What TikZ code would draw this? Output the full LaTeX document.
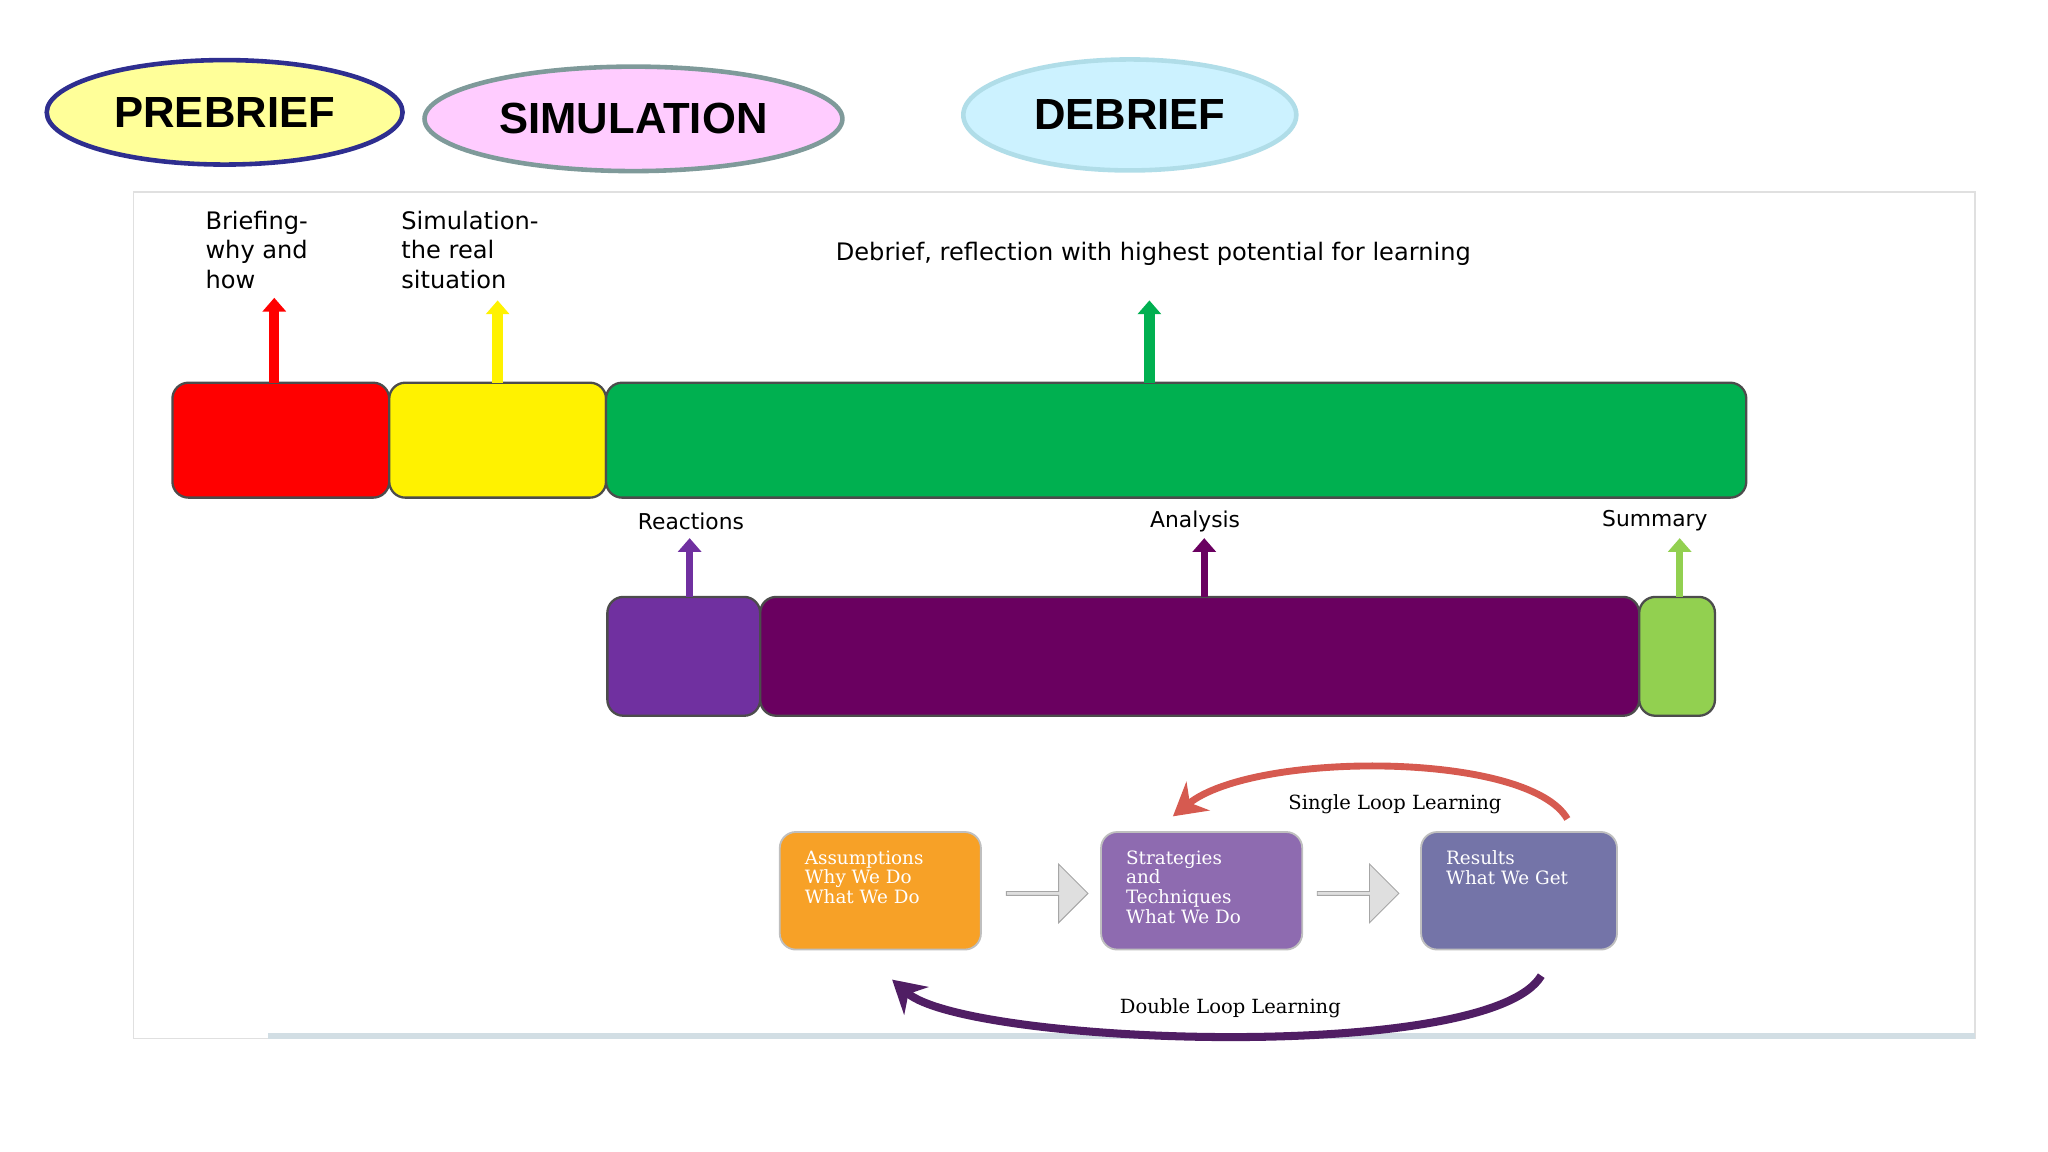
\documentclass[tikz,border=0pt]{standalone}
\usepackage{fontspec}
\setmainfont{DejaVu Sans}
\newfontfamily\hvfont{Liberation Sans}
\newfontfamily\slabfont{DejaVu Serif}
\usetikzlibrary{shapes.geometric,arrows.meta,shapes.arrows}
\definecolor{navy}{HTML}{2E2E8F}
\definecolor{cpre}{RGB}{255,255,153}
\definecolor{csim}{RGB}{255,204,255}
\definecolor{csimd}{RGB}{127,154,154}
\definecolor{cdeb}{RGB}{204,242,255}
\definecolor{cdebd}{RGB}{176,221,232}
\definecolor{cline}{RGB}{210,222,228}
\definecolor{cgreen}{RGB}{0,176,80}
\definecolor{cpur}{RGB}{112,48,160}
\definecolor{cdpur}{RGB}{106,0,96}
\definecolor{clgreen}{RGB}{146,208,80}
\definecolor{corange}{RGB}{247,161,39}
\definecolor{cviolet}{RGB}{142,107,176}
\definecolor{cblue}{RGB}{116,116,168}
\definecolor{cred}{RGB}{214,90,80}
\definecolor{cdl}{RGB}{80,30,100}
\begin{document}
\begin{tikzpicture}[x=0.02cm,y=-0.02cm,
  ell/.style={ellipse,draw,line width=2pt,font=\hvfont\bfseries\fontsize{19}{21}\selectfont},
  bar/.style={draw=black!70,line width=1pt,rounded corners=7pt},
  up/.style={line width=4.5pt,-{Triangle[length=6pt,width=10pt]}},
  lbl/.style={font=\fontsize{10.5}{13}\selectfont,align=left},
  box/.style={rounded corners=7pt,draw=black!25,line width=0.8pt},
  bt/.style={text=white,font=\slabfont\fontsize{8}{8.6}\selectfont,align=left,anchor=north west},
  ga/.style={single arrow,draw=gray!70,fill=gray!25,minimum height=1.25cm,minimum width=0.9cm,single arrow head extend=0.1cm,inner sep=0pt}]
\useasboundingbox (0,0) rectangle (1568,882);
\node[ell,fill=cpre,draw=navy,minimum width=5.45cm,minimum height=1.6cm] (pre) at (172,86) {PREBRIEF};
\node[ell,fill=csim,draw=csimd,minimum width=6.4cm,minimum height=1.6cm] (sim) at (485,91) {SIMULATION};
\node[ell,fill=cdeb,draw=cdebd,minimum width=5.1cm,minimum height=1.7cm] (deb) at (865,88) {DEBRIEF};
\draw[black!12,line width=0.6pt] (102,147) rectangle (1512,795);
\draw[cline,line width=2.5pt] (205,793) -- (1512,793);
% top bars
\draw[bar,fill=red] (132,293) rectangle (298,381);
\draw[bar,fill=yellow] (298,293) rectangle (464,381);
\draw[bar,fill=cgreen] (464,293) rectangle (1337,381);
\coordinate (r0) at (210,293); \coordinate (r1) at (210,228);
\coordinate (y0) at (381,293); \coordinate (y1) at (381,230);
\coordinate (g0) at (880,293); \coordinate (g1) at (880,230);
\draw[up,red] (r0) -- (r1);
\draw[up,yellow] (y0) -- (y1);
\draw[up,cgreen] (g0) -- (g1);
\node[lbl,anchor=north west,inner sep=0pt] (t1) at (157,161) {Briefing-\\why and\\how};
\node[lbl,anchor=north west,inner sep=0pt] (t2) at (307,161) {Simulation-\\the real\\situation};
\node[lbl] (t3) at (883,194) {Debrief, reflection with highest potential for learning};
% second bars
\draw[bar,fill=cpur] (465,457) rectangle (582,548);
\draw[bar,fill=cdpur] (582,457) rectangle (1255,548);
\draw[bar,fill=clgreen] (1255,457) rectangle (1313,548);
\coordinate (p0) at (528,457); \coordinate (p1) at (528,412);
\coordinate (q0) at (922,457); \coordinate (q1) at (922,412);
\coordinate (s0) at (1286,457); \coordinate (s1) at (1286,412);
\draw[up,line width=3pt,cpur] (p0) -- (p1);
\draw[up,line width=3pt,cdpur] (q0) -- (q1);
\draw[up,line width=3pt,clgreen] (s0) -- (s1);
\node[font=\fontsize{9.5}{11}\selectfont] (l1) at (529,399) {Reactions};
\node[font=\fontsize{9.5}{11}\selectfont] (l2) at (915,399) {Analysis};
\node[font=\fontsize{9.5}{11}\selectfont] (l3) at (1267,399) {Summary};
% loop diagram
\draw[box,fill=corange] (597,637) rectangle (751,727);
\draw[box,fill=cviolet] (843,637) rectangle (997,727);
\draw[box,fill=cblue] (1088,637) rectangle (1238,727);
\node[bt] (b1) at (610,645) {Assumptions\\Why We Do\\What We Do};
\node[bt] (b2) at (856,645) {Strategies\\and\\Techniques\\What We Do};
\node[bt] (b3) at (1101,645) {Results\\What We Get};
\node[ga] (a1) at (801,684) {};
\node[ga] (a2) at (1039,684) {};
\coordinate (sl0) at (1200,627); \coordinate (sl1) at (898,625);
\coordinate (dl0) at (1180,747); \coordinate (dl1) at (683,750);
\draw[line width=3pt,cred,-{Stealth[length=14pt,width=16pt]}] (sl0) .. controls (1170,575) and (960,575) .. (sl1);
\draw[line width=3.5pt,cdl,-{Stealth[length=14pt,width=16pt]}] (dl0) .. controls (1140,815) and (740,800) .. (dl1);
\node[fill=white,inner sep=1pt,font=\slabfont\fontsize{8.5}{10}\selectfont] (sll) at (1068,616) {Single Loop Learning};
\node[fill=white,inner sep=1pt,font=\slabfont\fontsize{8.5}{10}\selectfont] (dll) at (942,772) {Double Loop Learning};
\end{tikzpicture}
\end{document}
